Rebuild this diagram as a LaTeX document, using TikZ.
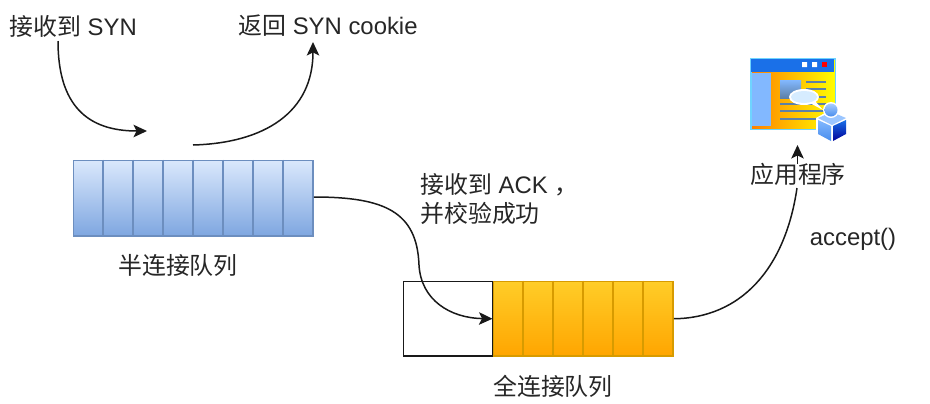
\documentclass[tikz,border=0pt]{standalone}
\usepackage{fontspec}
\setmainfont{Liberation Sans}
\newfontfamily\cjk{Noto Sans CJK SC}
\usetikzlibrary{arrows.meta}
\definecolor{blue1}{HTML}{DAE8FC}
\definecolor{blue2}{HTML}{7EA6E0}
\definecolor{blueline}{HTML}{6C8EBF}
\definecolor{yel1}{HTML}{FFCD28}
\definecolor{yel2}{HTML}{FFA500}
\definecolor{yelline}{HTML}{D79B00}
\definecolor{ibar}{HTML}{1A70E8}
\definecolor{iedge}{HTML}{6FD4FF}
\definecolor{ipanel}{HTML}{82B8FF}
\definecolor{iline}{HTML}{5C80A8}
\definecolor{ibub}{HTML}{D6ECFF}
\tikzset{
 x=0.02cm,y=-0.02cm,
 lbl/.style={inner sep=0pt,font=\fontsize{13.6pt}{16.5pt}\selectfont,text=black!85,align=left},
 conn/.style={draw=black!90,line width=0.03cm,-{Stealth[length=0.27cm,width=0.25cm,inset=0.06cm]}},
 bcell/.style={top color=blue1,bottom color=blue2},
 ycell/.style={top color=yel1,bottom color=yel2},
 bline/.style={draw=blueline,line width=0.03cm},
 yline/.style={draw=yelline,line width=0.03cm},
 bdiv/.style={draw=blueline,line width=0.04cm},
 ydiv/.style={draw=yelline,line width=0.04cm},
}
\begin{document}
\begin{tikzpicture}
\useasboundingbox (0,0) rectangle (930,403);
% queues
\node[draw=black!90,line width=0.03cm,minimum width=1.8cm,minimum height=1.5cm,inner sep=0pt,anchor=north west] (back) at (402.5,280.5) {};
\node[bcell,bline,minimum width=4.8cm,minimum height=1.52cm,inner sep=0pt,anchor=north west] (syn) at (72.5,159.5) {};
\node[ycell,yline,minimum width=3.6cm,minimum height=1.5cm,inner sep=0pt,anchor=north west] (acc) at (492.5,280.5) {};
\foreach \x in {103,133,...,283} \draw[bdiv] (\x,159.5) -- (\x,235.5);
\foreach \x in {523,553,...,643} \draw[ydiv] (\x,280.5) -- (\x,355.5);
% labels
\node[lbl,anchor=west] (t1) at (9,26) {{\cjk 接收到} SYN};
\node[lbl,anchor=west] (t2) at (238,26) {{\cjk 返回} SYN cookie};
\node[lbl,anchor=west] (t3) at (420,199) {{\cjk 接收到} ACK {\cjk ，}\\{\cjk 并校验成功}};
\node[lbl] (t4) at (178,265) {\cjk 半连接队列};
\node[lbl] (t5) at (553,386) {\cjk 全连接队列};
\node[lbl] (t6) at (798,174) {\cjk 应用程序};
\node[lbl] (t7) at (853,239) {accept()};
% icon
\node[draw=iedge,line width=0.03cm,left color=orange,right color=yellow,minimum width=1.7cm,minimum height=1.42cm,inner sep=0pt,anchor=north west] (app) at (750,58) {};
\fill[ibar] (751,59) rectangle (834,72);
\fill[ipanel] (752,73) rectangle (771,126);
\fill[white] (802,62) rectangle (807,67) (812,62) rectangle (817,67);
\fill[red] (822,62) rectangle (827,67);
\shade[top color=ipanel,bottom color=iline] (780,80) rectangle (801,98);
\foreach \a/\c in {806/82,806/89,806/97,780/104,780/111,780/119}
  \draw[iline,line width=0.035cm] (\a,\c) -- (826,\c);
\fill[white] (804,97) ellipse (15 and 8);
\fill[white] (808,102) -- (823,110) -- (814,100) -- cycle;
\fill[ibub] (804,97) ellipse (13 and 6);
\fill[white] (816,118) -- (832,109) -- (848,118) -- (848,135) -- (832,144) -- (816,135) -- cycle;
\shade[top color=ipanel,bottom color=ibar!80] (818,120) -- (831,126) -- (831,141) -- (818,134) -- cycle;
\shade[top color=ibar,bottom color=blue!60!black] (833,126) -- (846,120) -- (846,134) -- (833,141) -- cycle;
\fill[ipanel!80!white] (818,118) -- (832,112) -- (846,118) -- (832,125) -- cycle;
\fill[white] (831,110) circle (8);
\shade[top color=ipanel!70!white,bottom color=ibar!80] (831,110) circle (6.5);
% connectors
\coordinate (a1s) at (58,41);
\coordinate (a1e) at (147,131);
\coordinate (a2s) at (193,145);
\coordinate (a2e) at (313,42);
\coordinate (a4e) at (797.5,145);
\coordinate (a4s) at (797.5,164);
\coordinate (a3m) at (419,265);
\draw[conn] (a1s) .. controls (58,105) and (87,131) .. (a1e);
\draw[conn] (a2s) .. controls (265,143) and (313,112) .. (a2e);
\draw[conn] (syn.east |- 0,197) .. controls (385,197) and (417,212) .. (a3m) .. controls (421,300) and (450,318) .. (acc.west);
\draw[draw=black!90,line width=0.03cm] (acc.east) .. controls (740,318) and (785,270) .. (797,188);
\draw[conn] (a4s) -- (a4e);
\end{tikzpicture}
\end{document}
